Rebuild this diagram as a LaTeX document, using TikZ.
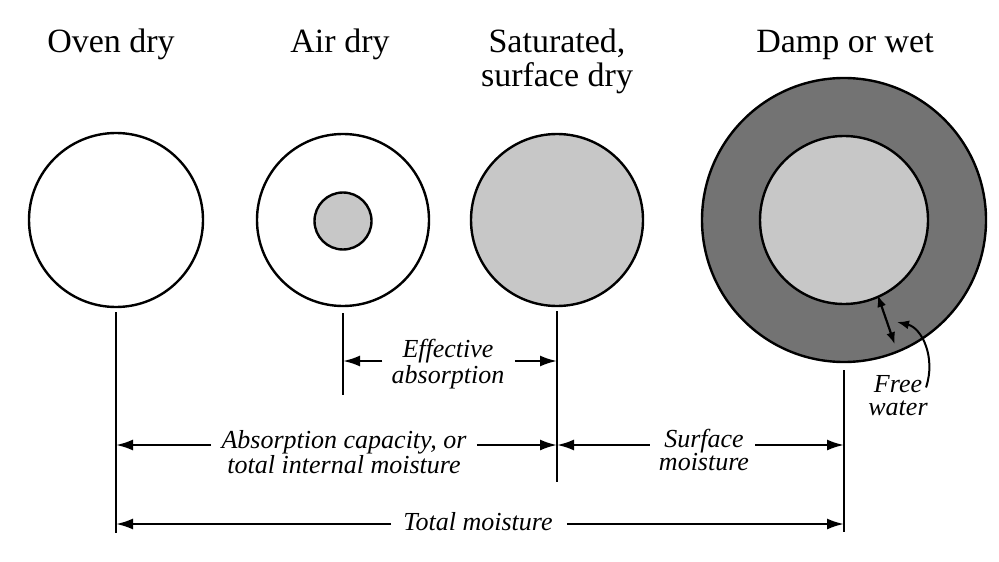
\documentclass[tikz,border=0pt]{standalone}
\usepackage{fontspec}
\setmainfont{Liberation Serif}
\usetikzlibrary{arrows.meta}
\begin{document}
\begin{tikzpicture}[x=0.5pt,y=-0.5pt,
    rim/.style={circle,draw,line width=1.2pt,inner sep=0pt},
    title/.style={font=\fontsize{17}{17}\selectfont,align=center},
    label/.style={font=\fontsize{13}{11.5}\selectfont\itshape,align=center,inner sep=0pt},
    dim/.style={-{Latex[length=8.5pt,width=5.5pt]},line width=1.1pt},
    lead/.style={line width=1.1pt}]
  \useasboundingbox (0,0) rectangle (999,561);
  % headings
  \node[title,anchor=base] (ovenTitle) at (111,53) {Oven dry};
  \node[title,anchor=base] (airTitle) at (340,53) {Air dry};
  \node[title,anchor=base] (satTitle) at (557,87) {Saturated,\\surface dry};
  \node[title,anchor=base] (dampTitle) at (845,53) {Damp or wet};
  % the four particles
  \node[rim,minimum size=87pt] (oven) at (116,220) {};
  \node[rim,minimum size=86pt] (air) at (343,220) {};
  \node[rim,fill=black!22,minimum size=28.5pt] (airCore) at (343,221) {};
  \node[rim,fill=black!22,minimum size=86pt] (sat) at (557,220) {};
  \node[rim,fill=black!55,minimum size=142pt] (damp) at (844,220) {};
  \node[rim,fill=black!22,minimum size=84pt] (dampCore) at (844,220) {};
  % labels
  \node[label] (effText) at (448,364) {Effective\\absorption};
  \node[label] (capText) at (344,452) {Absorption capacity, or\\total internal moisture};
  \node[label] (surfText) at (704,450) {Surface\\moisture};
  \node[label] (totText) at (478,522) {Total moisture};
  \node[label] (freeText) at (898,396) {Free\\water};
  % ends of the leads and arrows
  \coordinate (ovenEnd) at (116,533);
  \coordinate (airEnd) at (343,395);
  \coordinate (satEnd) at (557,482);
  \coordinate (dampEnd) at (844,532);
  \coordinate (effL) at (343,361);
  \coordinate (effR) at (557,361);
  \coordinate (capL) at (116,445);
  \coordinate (capR) at (557,445);
  \coordinate (surfR) at (844,445);
  \coordinate (totL) at (116,524);
  \coordinate (totR) at (844,524);
  \coordinate (fwTip) at (897,322);
  \begin{scope}[lead]
    \draw ([yshift=-2pt]oven.south) -- (ovenEnd);
    \draw ([yshift=-3pt]air.south) -- (airEnd);
    \draw ([yshift=-2pt]sat.south) -- (satEnd);
    \draw ([yshift=-3.5pt]damp.south) -- (dampEnd);
  \end{scope}
  \begin{scope}[dim]
    \draw ([xshift=-4.5pt]effText.west |- effL) -- (effL);
    \draw ([xshift=5pt]effText.east |- effR) -- (effR);
    \draw ([xshift=-5pt]capText.west |- capL) -- (capL);
    \draw ([xshift=5pt]capText.east |- capR) -- (capR);
    \draw ([xshift=-4.5pt]surfText.west |- capR) -- (capR);
    \draw ([xshift=3pt]surfText.east |- surfR) -- (surfR);
    \draw ([xshift=-6pt]totText.west |- totL) -- (totL);
    \draw ([xshift=7pt]totText.east |- totR) -- (totR);
  \end{scope}
  % free water
  \draw[{Latex[length=6pt,width=4.5pt]}-{Latex[length=6pt,width=4.5pt]},line width=1.1pt,shorten <=-1.5pt,shorten >=4.5pt]
    (dampCore.-66) -- (damp.-68);
  \draw[-{Latex[length=6pt,width=4.5pt]},line width=1pt]
    ([xshift=-1pt,yshift=-6pt]freeText.north east) .. controls +(10,-30) and +(25,6) .. (fwTip);
\end{tikzpicture}
\end{document}
